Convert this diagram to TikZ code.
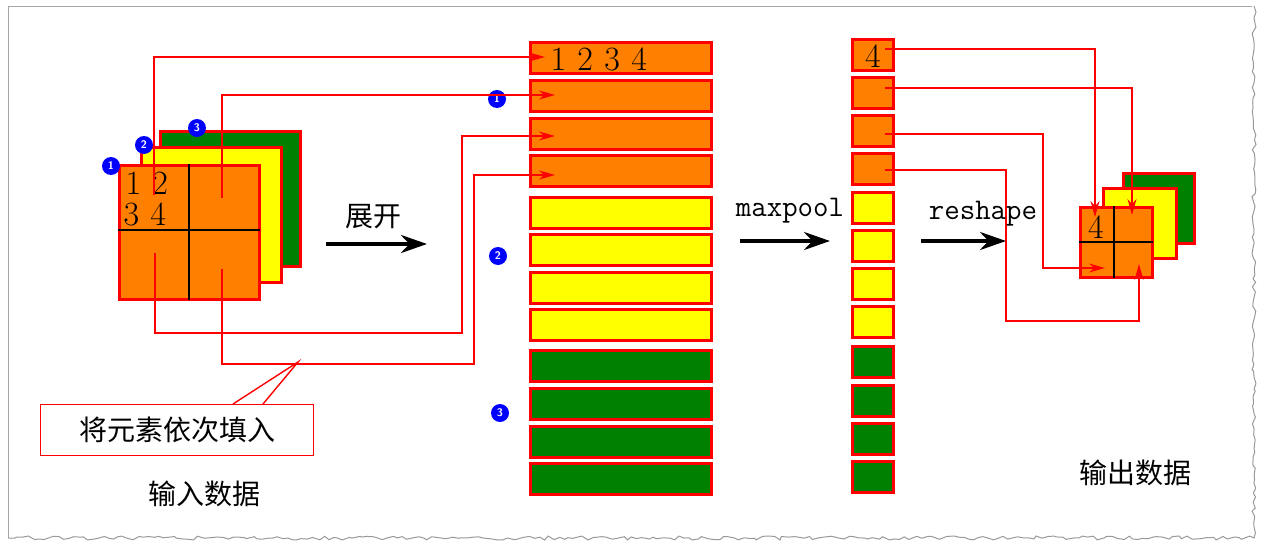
\documentclass[tikz,border=0pt]{standalone}
\usepackage{fontspec}
\newfontfamily\cjk{Noto Sans CJK SC}
\usetikzlibrary{arrows.meta,decorations.pathmorphing}
\definecolor{org}{RGB}{255,128,0}
\definecolor{yel}{RGB}{255,255,0}
\definecolor{grn}{RGB}{0,128,0}
\begin{document}
\begin{tikzpicture}[x=1pt,y=-1pt,
  cell/.style={draw=red,line width=2.6pt,minimum width=#1,minimum height=31pt,inner sep=0pt,anchor=north west},
  sq/.style={draw=red,line width=2.6pt,inner sep=0pt,anchor=north west},
  badge/.style={circle,fill=blue,text=white,inner sep=0pt,minimum size=18pt,font=\sffamily\bfseries\fontsize{11}{11}\selectfont},
  num/.style={font=\fontsize{34}{34}\selectfont},
  cj/.style={font=\cjk\fontsize{28}{28}\selectfont},
  tt/.style={font=\ttfamily\fontsize{30}{30}\selectfont},
  conn/.style={draw=red,line width=1.4pt},
  rar/.style={conn,-{Stealth[length=16pt,width=9pt]}},
  bar/.style={line width=4pt,-{Stealth[length=26pt,width=18pt]}}]
\useasboundingbox (0,0) rectangle (1270,554);
\draw[gray!70,line width=0.8pt] (1252,6) -- (8,6) -- (8,538);
\draw[gray!80,line width=1pt,decorate,decoration={random steps,segment length=5pt,amplitude=2pt}] (8,538) -- (1254,538) -- (1254,6);
% input squares
\node[sq,fill=grn,minimum width=140pt,minimum height=135pt] (ig) at (159,130) {};
\node[sq,fill=yel,minimum width=140pt,minimum height=135pt] (iy) at (140,146) {};
\node[sq,fill=org,minimum width=140pt,minimum height=134pt] (io) at (118,164) {};
\draw[line width=1.2pt] (189,164) -- (189,300);
\draw[line width=1.2pt] (118,230) -- (260,230);
\node[num,anchor=west] (t12) at (122,183) {1\,\,2};
\node[num,anchor=west] (t34) at (120,214) {3\,\,4};
\node[badge] (b1) at (111,166) {1};
\node[badge] (b2) at (144,145) {2};
\node[badge] (b3) at (197,128) {3};
\node[badge] (c1) at (497,99) {1};
\node[badge] (c2) at (498,256) {2};
\node[badge] (c3) at (500,413) {3};
% middle column
\foreach \y [count=\i] in {41,79,117,154}{\node[cell=181pt,fill=org] (m\i) at (529,\y) {};}
\foreach \y [count=\i] in {196,233,271,308}{\node[cell=181pt,fill=yel] (my\i) at (529,\y) {};}
\foreach \y [count=\i] in {349,387,425,462}{\node[cell=181pt,fill=grn] (mg\i) at (529,\y) {};}
\node[num,anchor=west] (n1234) at (547,59) {1\,\,2\,\,3\,\,4};
% right column
\foreach \y [count=\i] in {38,76,114,152}{\node[cell=41pt,fill=org] (r\i) at (851,\y) {};}
\foreach \y [count=\i] in {191,229,267,305}{\node[cell=41pt,fill=yel] (ry\i) at (851,\y) {};}
\foreach \y [count=\i] in {345,384,422,460}{\node[cell=41pt,fill=grn] (rg\i) at (851,\y) {};}
\node[num] (r4t) at (873,56) {4};
% output squares
\node[sq,fill=grn,minimum width=71pt,minimum height=70pt] (og) at (1122,172) {};
\node[sq,fill=yel,minimum width=73pt,minimum height=70pt] (oy) at (1102,187) {};
\node[sq,fill=org,minimum width=72pt,minimum height=70pt] (oo) at (1079,206) {};
\draw[line width=1.2pt] (1114,206) -- (1114,278);
\draw[line width=1.2pt] (1079,242) -- (1153,242);
\node[num] (o4) at (1096,227) {4};
% left connectors
\coordinate (s1) at (154,195); \coordinate (e1) at (545,57);
\coordinate (s2) at (222,198); \coordinate (e2) at (555,95);
\coordinate (s3) at (155,253); \coordinate (e3) at (555,136);
\coordinate (s4) at (222,269); \coordinate (e4) at (555,175);
\draw[rar] (s1) |- (e1);
\draw[rar] (s2) |- (e2);
\draw[rar] (s3) -- (155,333) -- (462,333) |- (e3);
\draw[rar] (s4) -- (222,364) -- (474,364) |- (e4);
% callout
\node[draw=red,line width=1.4pt,fill=white,minimum width=273pt,minimum height=51pt,anchor=north west,inner sep=0pt,cj] (call) at (40,404) {将元素依次填入};
\coordinate (tip) at (298,362);
\draw[conn] (233,404) -- (tip) -- (263,404);
% right connectors
\coordinate (q1) at (885,49); \coordinate (f1) at (1095,217);
\coordinate (q2) at (885,88); \coordinate (f2) at (1132,215);
\coordinate (q3) at (885,134); \coordinate (f3) at (1105,268);
\coordinate (q4) at (885,170); \coordinate (f4) at (1139,264);
\draw[rar] (q1) -| (f1);
\draw[rar] (q2) -| (f2);
\draw[rar] (q3) -- (1043,134) |- (f3);
\draw[rar] (q4) -- (1006,170) -- (1006,321) -| (f4);
% black arrows and labels
\draw[bar] (326,244) -- (427,244);
\node[cj] (zk) at (373,217) {展开};
\draw[bar] (740,241) -- (830,241);
\node[tt] (mp) at (790,211) {maxpool};
\draw[bar] (921,241) -- (1006,241);
\node[tt] (rs) at (983,214) {reshape};
\node[cj] (in) at (204,494) {输入数据};
\node[cj] (out) at (1135,473) {输出数据};
\end{tikzpicture}
\end{document}
